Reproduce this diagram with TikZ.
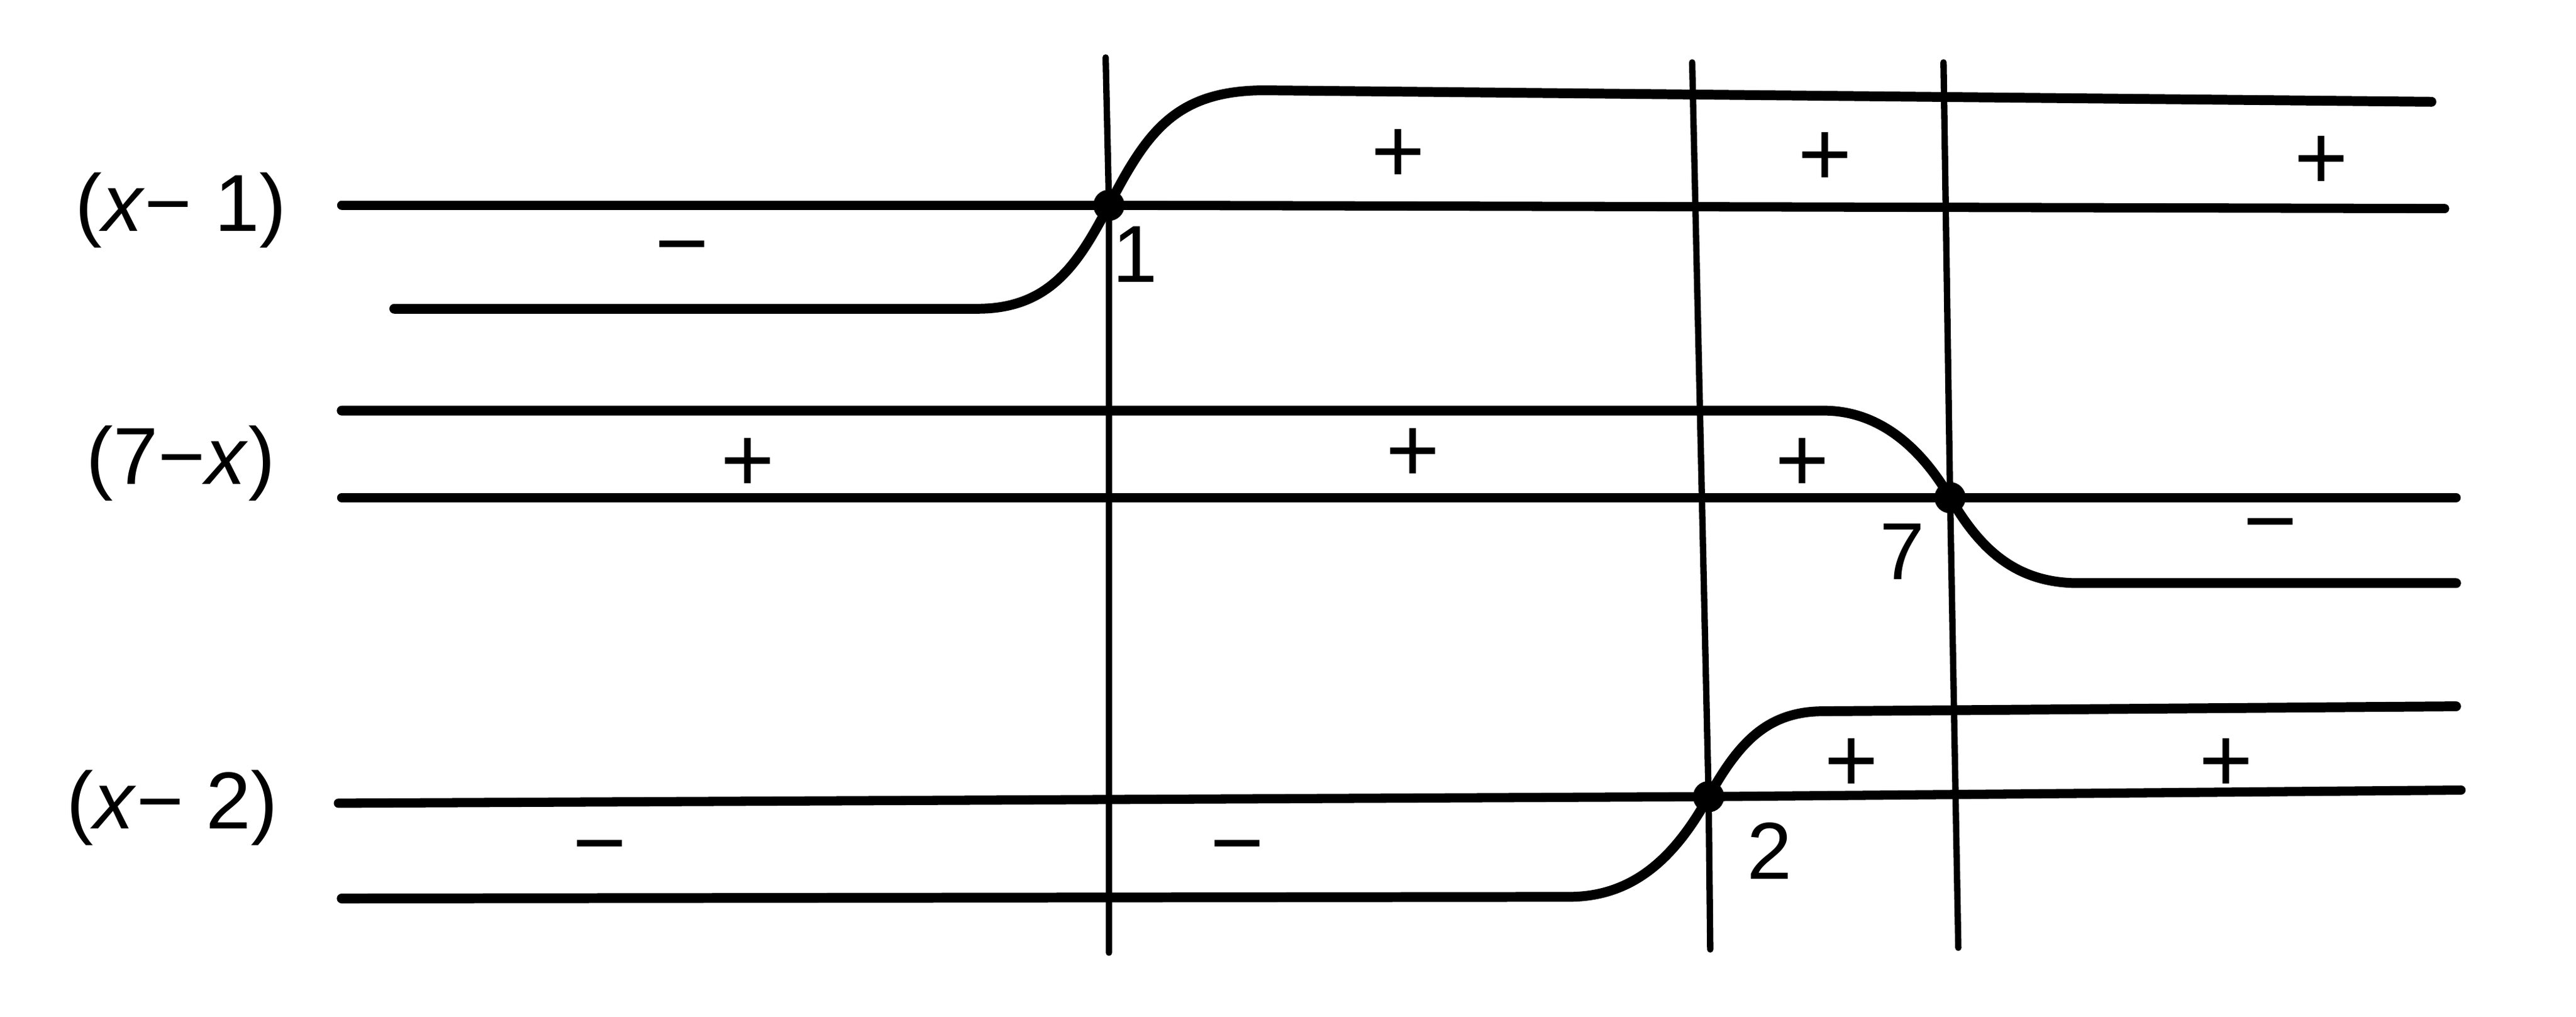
\documentclass[tikz,border=0pt]{standalone}
\usepackage{fontspec}
\setmainfont{Liberation Sans}
\usetikzlibrary{positioning}
\tikzset{
	axisline/.style={line width=1.6pt, line cap=round},
	signcurve/.style={line width=1.7pt, line cap=round, line join=round},
	rootline/.style={line width=1.1pt, line cap=round},
	lbl/.style={font=\fontsize{14}{16}\selectfont, inner sep=0pt},
	sgn/.style={font=\fontsize{16}{18}\selectfont, inner sep=0pt}
}

\begin{document}
\begin{tikzpicture}
		\useasboundingbox (0,0) rectangle (15.68,6.19);
		\coordinate (r1) at (6.75,4.94);
		\coordinate (r7) at (11.87,3.16);
		\coordinate (r2) at (10.40,1.34);
		\draw[rootline] (6.73,5.84) -- (r1) -- (6.75,0.39);
		\draw[rootline] (10.30,5.81) -- (r2) -- (10.41,0.41);
		\draw[rootline] (11.83,5.81) -- (r7) -- (11.92,0.42);
		\draw[axisline] (2.08,4.94) -- (r1) -- (14.88,4.92);
		\draw[axisline] (2.08,3.16) -- (r7) -- (14.95,3.16);
		\draw[axisline] (2.06,1.30) -- (r2) -- (14.98,1.38);
		\draw[signcurve] (2.40,4.31) -- (5.95,4.31) .. controls (6.40,4.31) and (6.57,4.60) .. (r1) .. controls (6.98,5.38) and (7.15,5.64) .. (7.70,5.64) -- (14.80,5.57);
		\draw[signcurve] (2.08,3.69) -- (11.10,3.69) .. controls (11.45,3.69) and (11.70,3.45) .. (r7) .. controls (12.04,2.87) and (12.25,2.64) .. (12.65,2.64) -- (14.95,2.64);
		\draw[signcurve] (2.08,0.72) -- (9.55,0.73) .. controls (9.95,0.73) and (10.20,0.98) .. (r2) .. controls (10.58,1.66) and (10.75,1.86) .. (11.10,1.86) -- (14.95,1.89);
		\fill (r1) circle (0.095);
		\fill (r7) circle (0.095);
		\fill (r2) circle (0.095);
		\node[lbl] (f1) at (1.10,4.91) {(\textit{x}− 1)};
		\node[lbl] (f7) at (1.10,3.37) {(7−\textit{x})};
		\node[lbl] (f2) at (1.05,1.27) {(\textit{x}− 2)};
		\node[lbl] (n1) at (6.91,4.64) {1};
		\node[lbl] (n7) at (11.58,2.83) {7};
		\node[lbl] (n2) at (10.77,1.01) {2};
		\node[sgn] (s11) at (4.15,4.62) {−};
		\node[sgn] (s12) at (8.51,5.24) {+};
		\node[sgn] (s13) at (11.11,5.22) {+};
		\node[sgn] (s14) at (14.13,5.20) {+};
		\node[sgn] (s21) at (4.55,3.36) {+};
		\node[sgn] (s22) at (8.60,3.42) {+};
		\node[sgn] (s23) at (10.97,3.36) {+};
		\node[sgn] (s24) at (13.82,2.93) {−};
		\node[sgn] (s31) at (3.65,0.97) {−};
		\node[sgn] (s32) at (7.53,0.97) {−};
		\node[sgn] (s33) at (11.27,1.53) {+};
		\node[sgn] (s34) at (13.55,1.53) {+};
	\end{tikzpicture}
\end{document}
